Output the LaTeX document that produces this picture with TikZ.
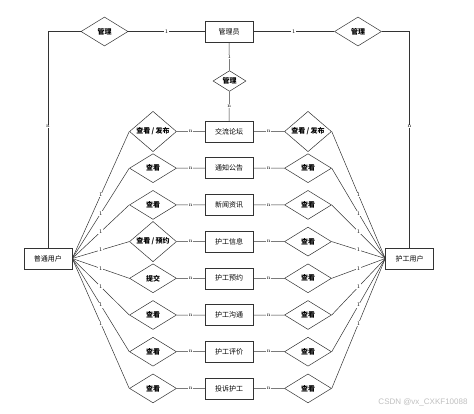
\documentclass[tikz,border=0pt]{standalone}
\usepackage{fontspec}
\newfontfamily\cjk{Noto Sans CJK SC}
\newfontfamily\wmfont{Liberation Sans}
\usetikzlibrary{shapes,arrows,positioning}
\tikzstyle{block} = [draw=black!80, fill=white, rectangle, line width=0.5pt,
    minimum height=21pt, minimum width=48pt, font=\cjk\fontsize{7}{8}\selectfont]
\tikzstyle{rel} = [draw=black!80, fill=white, diamond, line width=0.5pt, inner sep=0pt,
    minimum height=29pt, minimum width=47pt, font=\cjk\bfseries\fontsize{7}{8}\selectfont]
\tikzstyle{card} = [fill=white, inner sep=0.6pt, font=\fontsize{5.5}{5.5}\selectfont]

\begin{document}
\begin{tikzpicture}[x=1pt, y=-1pt, node distance=36.7pt, line width=0.5pt, draw=black!80]
  \useasboundingbox (0,0) rectangle (474,413);

  % top: admin and its relations
  \node [block] (admin) at (229,31.5) {管理员};
  \node [rel] (mgrl) at (104.5,31.5) {管理};
  \node [rel] (mgrr) at (358,31.5) {管理};
  \node [rel, minimum width=33pt, minimum height=20pt] (mgrm) at (229.5,81) {管理};

  % the two user kinds
  \node [block] (user) at (48,258.5) {普通用户};
  \node [block] (nurse) at (409.5,258.5) {护工用户};

  % middle column
  \node [block] (forum) at (229,131.5) {交流论坛};
  \node [block,below of=forum] (notice) {通知公告};
  \node [block,below of=notice] (news) {新闻资讯};
  \node [block,below of=news] (info) {护工信息};
  \node [block,below of=info] (booking) {护工预约};
  \node [block,below of=booking] (chat) {护工沟通};
  \node [block,below of=chat] (review) {护工评价};
  \node [block,below of=review] (complain) {投诉护工};

  % relations of the normal user
  \node [rel,left=28pt of forum] (lforum) {查看\,/\,发布};
  \node [rel,left=28pt of notice] (lnotice) {查看};
  \node [rel,left=28pt of news] (lnews) {查看};
  \node [rel,left=28pt of info] (linfo) {查看\,/\,预约};
  \node [rel,left=28pt of booking] (lbooking) {提交};
  \node [rel,left=28pt of chat] (lchat) {查看};
  \node [rel,left=28pt of review] (lreview) {查看};
  \node [rel,left=28pt of complain] (lcomplain) {查看};

  % relations of the nurse user
  \node [rel,right=31pt of forum] (rforum) {查看\,/\,发布};
  \node [rel,right=31pt of notice] (rnotice) {查看};
  \node [rel,right=31pt of news] (rnews) {查看};
  \node [rel,right=31pt of info] (rinfo) {查看};
  \node [rel,right=31pt of booking] (rbooking) {查看};
  \node [rel,right=31pt of chat] (rchat) {查看};
  \node [rel,right=31pt of review] (rreview) {查看};
  \node [rel,right=31pt of complain] (rcomplain) {查看};

  \draw (mgrl) -- node[card] {1} (admin) -- node[card] {1} (mgrr);
  \draw (mgrl.west) -| node[card,pos=0.72] {n} (user.north);
  \draw (mgrr.east) -| node[card,pos=0.72] {n} (nurse.north);
  \draw (admin) -- node[card] {1} (mgrm) -- node[card] {n} (forum);

  \draw (user.east) -- node[card] {1} (lforum.west) (lforum) -- node[card] {n} (forum) -- node[card] {n} (rforum) (rforum.east) -- node[card] {1} (nurse.west);
  \draw (user.east) -- node[card] {1} (lnotice.west) (lnotice) -- node[card] {n} (notice) -- node[card] {n} (rnotice) (rnotice.east) -- node[card] {1} (nurse.west);
  \draw (user.east) -- node[card] {1} (lnews.west) (lnews) -- node[card] {n} (news) -- node[card] {n} (rnews) (rnews.east) -- node[card] {1} (nurse.west);
  \draw (user.east) -- node[card] {1} (linfo.west) (linfo) -- node[card] {n} (info) -- node[card] {n} (rinfo) (rinfo.east) -- node[card] {1} (nurse.west);
  \draw (user.east) -- node[card] {1} (lbooking.west) (lbooking) -- node[card] {n} (booking) -- node[card] {n} (rbooking) (rbooking.east) -- node[card] {1} (nurse.west);
  \draw (user.east) -- node[card] {1} (lchat.west) (lchat) -- node[card] {n} (chat) -- node[card] {n} (rchat) (rchat.east) -- node[card] {1} (nurse.west);
  \draw (user.east) -- node[card] {1} (lreview.west) (lreview) -- node[card] {n} (review) -- node[card] {n} (rreview) (rreview.east) -- node[card] {1} (nurse.west);
  \draw (user.east) -- node[card] {1} (lcomplain.west) (lcomplain) -- node[card] {n} (complain) -- node[card] {n} (rcomplain) (rcomplain.east) -- node[card] {1} (nurse.west);

  \node [text=black!25, font=\wmfont\fontsize{8}{9}\selectfont] (mark) at (423,402) {CSDN @vx\_CXKF10088};
\end{tikzpicture}
\end{document}
